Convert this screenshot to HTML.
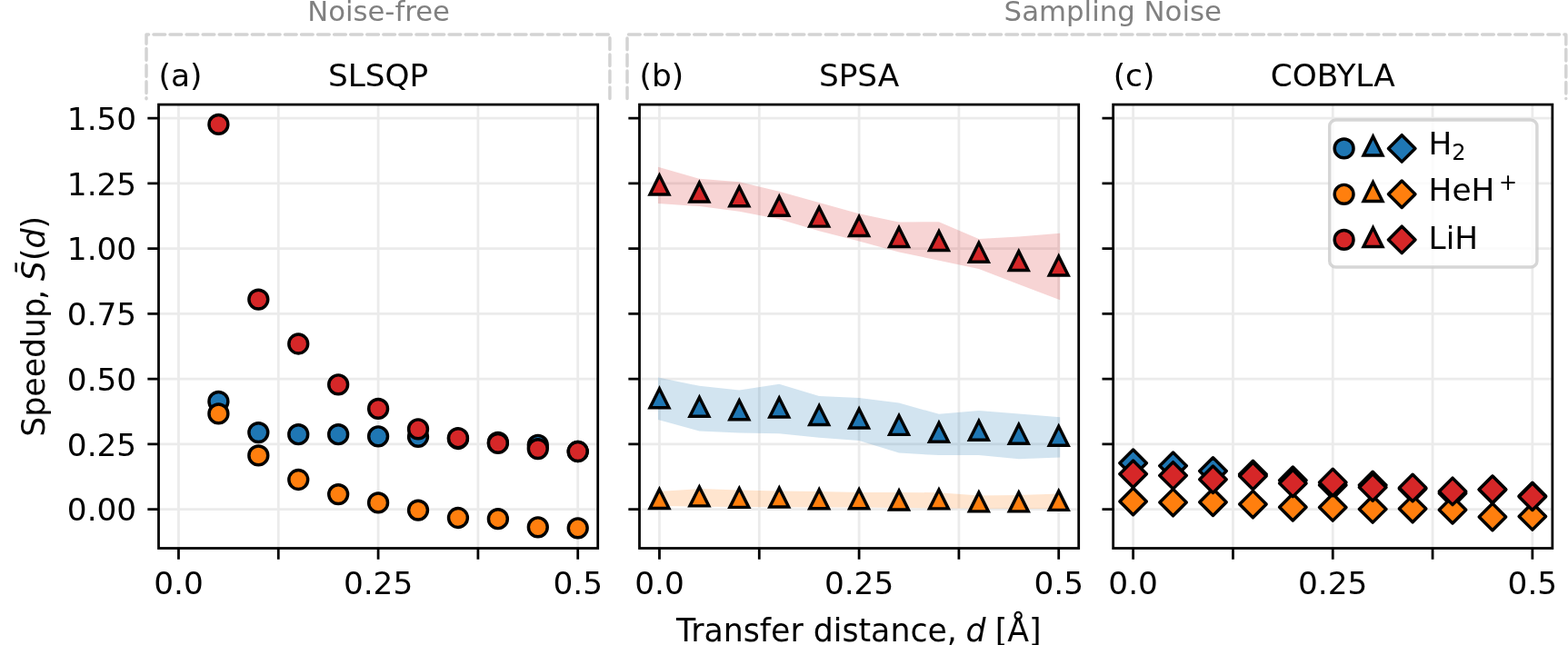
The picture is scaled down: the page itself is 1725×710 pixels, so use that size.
<!DOCTYPE html><html><head><meta charset="utf-8"><title>Speedup vs transfer distance</title><style>html,body{margin:0;padding:0;background:#fff;overflow:hidden}svg{display:block}</style></head><body>
<svg width="1725" height="710" viewBox="0 0 1725 710">
<rect x="0" y="0" width="1725" height="710" fill="#fff"/>
<path d="M161 108.8V38.1H670.9V108.6" stroke="#d3d3d3" stroke-width="3.47" fill="none" stroke-linecap="round" stroke-linejoin="round" stroke-dasharray="12.7 5.36" stroke-dashoffset="11.65"/>
<path d="M690 108.6V38.1H1722.8V108.6" stroke="#d3d3d3" stroke-width="3.47" fill="none" stroke-linecap="round" stroke-linejoin="round" stroke-dasharray="12.7 5.36" stroke-dashoffset="0.25"/>
<text x="416.6" y="23.3" font-family="DejaVu Sans" font-size="30.7" fill="#808080" text-anchor="middle">Noise-free</text>
<text x="1224.3" y="23.2" font-family="DejaVu Sans" font-size="30.8" fill="#808080" text-anchor="middle">Sampling Noise</text>
<g id="axa">
<rect x="174.5" y="115.1" width="483.2" height="488.4" fill="#fff"/>
<clipPath id="clipa"><rect x="174.5" y="115.1" width="483.2" height="488.4"/></clipPath>
<path d="M196.46 115.1V603.5M306.27 115.1V603.5M416.09 115.1V603.5M525.9 115.1V603.5M635.71 115.1V603.5M174.5 560.56H657.7M174.5 488.82H657.7M174.5 417.08H657.7M174.5 345.35H657.7M174.5 273.61H657.7M174.5 201.87H657.7M174.5 130.13H657.7" stroke="#ebebeb" stroke-width="2.78" fill="none" clip-path="url(#clipa)"/>
<g clip-path="url(#clipa)">
<circle cx="240.39" cy="441.9" r="10.42" fill="#1f77b4" stroke="#000" stroke-width="3.47"/>
<circle cx="284.31" cy="476.1" r="10.42" fill="#1f77b4" stroke="#000" stroke-width="3.47"/>
<circle cx="328.24" cy="478.2" r="10.42" fill="#1f77b4" stroke="#000" stroke-width="3.47"/>
<circle cx="372.16" cy="478.2" r="10.42" fill="#1f77b4" stroke="#000" stroke-width="3.47"/>
<circle cx="416.09" cy="480.3" r="10.42" fill="#1f77b4" stroke="#000" stroke-width="3.47"/>
<circle cx="460.01" cy="480.8" r="10.42" fill="#1f77b4" stroke="#000" stroke-width="3.47"/>
<circle cx="503.94" cy="483" r="10.42" fill="#1f77b4" stroke="#000" stroke-width="3.47"/>
<circle cx="547.86" cy="486.9" r="10.42" fill="#1f77b4" stroke="#000" stroke-width="3.47"/>
<circle cx="591.79" cy="489.8" r="10.42" fill="#1f77b4" stroke="#000" stroke-width="3.47"/>
<circle cx="635.71" cy="497" r="10.42" fill="#1f77b4" stroke="#000" stroke-width="3.47"/>
<circle cx="240.39" cy="455.4" r="10.42" fill="#ff7f0e" stroke="#000" stroke-width="3.47"/>
<circle cx="284.31" cy="501.4" r="10.42" fill="#ff7f0e" stroke="#000" stroke-width="3.47"/>
<circle cx="328.24" cy="528" r="10.42" fill="#ff7f0e" stroke="#000" stroke-width="3.47"/>
<circle cx="372.16" cy="544.1" r="10.42" fill="#ff7f0e" stroke="#000" stroke-width="3.47"/>
<circle cx="416.09" cy="553.4" r="10.42" fill="#ff7f0e" stroke="#000" stroke-width="3.47"/>
<circle cx="460.01" cy="561.6" r="10.42" fill="#ff7f0e" stroke="#000" stroke-width="3.47"/>
<circle cx="503.94" cy="570" r="10.42" fill="#ff7f0e" stroke="#000" stroke-width="3.47"/>
<circle cx="547.86" cy="571.2" r="10.42" fill="#ff7f0e" stroke="#000" stroke-width="3.47"/>
<circle cx="591.79" cy="580.3" r="10.42" fill="#ff7f0e" stroke="#000" stroke-width="3.47"/>
<circle cx="635.71" cy="581.3" r="10.42" fill="#ff7f0e" stroke="#000" stroke-width="3.47"/>
<circle cx="240.39" cy="136.9" r="10.42" fill="#d62728" stroke="#000" stroke-width="3.47"/>
<circle cx="284.31" cy="329.6" r="10.42" fill="#d62728" stroke="#000" stroke-width="3.47"/>
<circle cx="328.24" cy="378.5" r="10.42" fill="#d62728" stroke="#000" stroke-width="3.47"/>
<circle cx="372.16" cy="423.3" r="10.42" fill="#d62728" stroke="#000" stroke-width="3.47"/>
<circle cx="416.09" cy="449.9" r="10.42" fill="#d62728" stroke="#000" stroke-width="3.47"/>
<circle cx="460.01" cy="472.3" r="10.42" fill="#d62728" stroke="#000" stroke-width="3.47"/>
<circle cx="503.94" cy="482.2" r="10.42" fill="#d62728" stroke="#000" stroke-width="3.47"/>
<circle cx="547.86" cy="487.9" r="10.42" fill="#d62728" stroke="#000" stroke-width="3.47"/>
<circle cx="591.79" cy="494.1" r="10.42" fill="#d62728" stroke="#000" stroke-width="3.47"/>
<circle cx="635.71" cy="497" r="10.42" fill="#d62728" stroke="#000" stroke-width="3.47"/>
</g>
<rect x="174.5" y="115.1" width="483.2" height="488.4" fill="none" stroke="#000" stroke-width="2.78" stroke-linejoin="miter"/>
<path d="M196.46 603.5V615.65M306.27 603.5V615.65M416.09 603.5V615.65M525.9 603.5V615.65M635.71 603.5V615.65M174.5 560.56H162.35M174.5 488.82H162.35M174.5 417.08H162.35M174.5 345.35H162.35M174.5 273.61H162.35M174.5 201.87H162.35M174.5 130.13H162.35" stroke="#000" stroke-width="2.78" fill="none"/>
<text x="196.46" y="654" font-family="DejaVu Sans" font-size="34.3" text-anchor="middle">0.0</text>
<text x="416.09" y="654" font-family="DejaVu Sans" font-size="34.3" text-anchor="middle">0.25</text>
<text x="635.71" y="654" font-family="DejaVu Sans" font-size="34.3" text-anchor="middle">0.5</text>
<text x="150.2" y="573.41" font-family="DejaVu Sans" font-size="34.3" text-anchor="end">0.00</text>
<text x="150.2" y="501.67" font-family="DejaVu Sans" font-size="34.3" text-anchor="end">0.25</text>
<text x="150.2" y="429.93" font-family="DejaVu Sans" font-size="34.3" text-anchor="end">0.50</text>
<text x="150.2" y="358.2" font-family="DejaVu Sans" font-size="34.3" text-anchor="end">0.75</text>
<text x="150.2" y="286.46" font-family="DejaVu Sans" font-size="34.3" text-anchor="end">1.00</text>
<text x="150.2" y="214.72" font-family="DejaVu Sans" font-size="34.3" text-anchor="end">1.25</text>
<text x="150.2" y="142.98" font-family="DejaVu Sans" font-size="34.3" text-anchor="end">1.50</text>
<text x="174.5" y="94.5" font-family="DejaVu Sans" font-size="34.3">(a)</text>
<text x="416.1" y="94.5" font-family="DejaVu Sans" font-size="34.3" text-anchor="middle">SLSQP</text>
</g>
<g id="axb">
<rect x="703.5" y="115.1" width="483.2" height="488.4" fill="#fff"/>
<clipPath id="clipb"><rect x="703.5" y="115.1" width="483.2" height="488.4"/></clipPath>
<path d="M725.46 115.1V603.5M835.27 115.1V603.5M945.09 115.1V603.5M1054.9 115.1V603.5M1164.71 115.1V603.5M703.5 560.56H1186.7M703.5 488.82H1186.7M703.5 417.08H1186.7M703.5 345.35H1186.7M703.5 273.61H1186.7M703.5 201.87H1186.7M703.5 130.13H1186.7" stroke="#ebebeb" stroke-width="2.78" fill="none" clip-path="url(#clipb)"/>
<g clip-path="url(#clipb)">
<path d="M723.96 415.5L769.39 424.8L813.31 429.4L857.24 422.8L901.16 436.1L945.09 437.9L989.01 443.6L1032.94 455.8L1076.86 452.1L1120.79 455.5L1166.21 459.2L1166.21 503.6L1120.79 505.3L1076.86 501.1L1032.94 501.1L989.01 498.6L945.09 484.9L901.16 481.8L857.24 477.2L813.31 476.4L769.39 474.5L723.96 462.1Z" fill="#1f77b4" fill-opacity="0.2"/>
<path d="M723.96 541L769.39 538.1L813.31 539.6L857.24 540.5L901.16 541L945.09 541.9L989.01 542L1032.94 542.2L1076.86 545.6L1120.79 545L1166.21 543.4L1166.21 559.9L1120.79 559.9L1076.86 559.8L1032.94 559.5L989.01 559L945.09 558.4L901.16 558.4L857.24 558.2L813.31 558L769.39 557.7L723.96 557Z" fill="#ff7f0e" fill-opacity="0.2"/>
<path d="M723.96 183.7L769.39 196.8L813.31 200.3L857.24 210.8L901.16 223L945.09 235.2L989.01 244.4L1032.94 244.2L1076.86 263.1L1120.79 260.6L1166.21 256.7L1166.21 330.3L1120.79 312.9L1076.86 296L1032.94 286.7L989.01 277.6L945.09 265.6L901.16 254.2L857.24 241.2L813.31 232.8L769.39 227.1L723.96 223.9Z" fill="#d62728" fill-opacity="0.2"/>
<path d="M725.46 427.93L715.05 448.77L735.88 448.77Z" fill="#1f77b4" stroke="#000" stroke-width="3.47" stroke-linejoin="miter"/>
<path d="M769.39 437.43L758.97 458.27L779.8 458.27Z" fill="#1f77b4" stroke="#000" stroke-width="3.47" stroke-linejoin="miter"/>
<path d="M813.31 440.83L802.9 461.67L823.73 461.67Z" fill="#1f77b4" stroke="#000" stroke-width="3.47" stroke-linejoin="miter"/>
<path d="M857.24 438.13L846.82 458.97L867.65 458.97Z" fill="#1f77b4" stroke="#000" stroke-width="3.47" stroke-linejoin="miter"/>
<path d="M901.16 446.73L890.75 467.57L911.58 467.57Z" fill="#1f77b4" stroke="#000" stroke-width="3.47" stroke-linejoin="miter"/>
<path d="M945.09 450.23L934.67 471.07L955.5 471.07Z" fill="#1f77b4" stroke="#000" stroke-width="3.47" stroke-linejoin="miter"/>
<path d="M989.01 457.53L978.6 478.37L999.43 478.37Z" fill="#1f77b4" stroke="#000" stroke-width="3.47" stroke-linejoin="miter"/>
<path d="M1032.94 465.43L1022.52 486.27L1043.35 486.27Z" fill="#1f77b4" stroke="#000" stroke-width="3.47" stroke-linejoin="miter"/>
<path d="M1076.86 463.43L1066.45 484.27L1087.28 484.27Z" fill="#1f77b4" stroke="#000" stroke-width="3.47" stroke-linejoin="miter"/>
<path d="M1120.79 467.33L1110.37 488.17L1131.2 488.17Z" fill="#1f77b4" stroke="#000" stroke-width="3.47" stroke-linejoin="miter"/>
<path d="M1164.71 469.33L1154.3 490.17L1175.13 490.17Z" fill="#1f77b4" stroke="#000" stroke-width="3.47" stroke-linejoin="miter"/>
<path d="M725.46 538.63L715.05 559.47L735.88 559.47Z" fill="#ff7f0e" stroke="#000" stroke-width="3.47" stroke-linejoin="miter"/>
<path d="M769.39 536.03L758.97 556.87L779.8 556.87Z" fill="#ff7f0e" stroke="#000" stroke-width="3.47" stroke-linejoin="miter"/>
<path d="M813.31 537.53L802.9 558.37L823.73 558.37Z" fill="#ff7f0e" stroke="#000" stroke-width="3.47" stroke-linejoin="miter"/>
<path d="M857.24 537.23L846.82 558.07L867.65 558.07Z" fill="#ff7f0e" stroke="#000" stroke-width="3.47" stroke-linejoin="miter"/>
<path d="M901.16 538.93L890.75 559.77L911.58 559.77Z" fill="#ff7f0e" stroke="#000" stroke-width="3.47" stroke-linejoin="miter"/>
<path d="M945.09 538.83L934.67 559.67L955.5 559.67Z" fill="#ff7f0e" stroke="#000" stroke-width="3.47" stroke-linejoin="miter"/>
<path d="M989.01 540.23L978.6 561.07L999.43 561.07Z" fill="#ff7f0e" stroke="#000" stroke-width="3.47" stroke-linejoin="miter"/>
<path d="M1032.94 539.03L1022.52 559.87L1043.35 559.87Z" fill="#ff7f0e" stroke="#000" stroke-width="3.47" stroke-linejoin="miter"/>
<path d="M1076.86 542.03L1066.45 562.87L1087.28 562.87Z" fill="#ff7f0e" stroke="#000" stroke-width="3.47" stroke-linejoin="miter"/>
<path d="M1120.79 542.03L1110.37 562.87L1131.2 562.87Z" fill="#ff7f0e" stroke="#000" stroke-width="3.47" stroke-linejoin="miter"/>
<path d="M1164.71 540.53L1154.3 561.37L1175.13 561.37Z" fill="#ff7f0e" stroke="#000" stroke-width="3.47" stroke-linejoin="miter"/>
<path d="M725.46 193.08L715.05 213.92L735.88 213.92Z" fill="#d62728" stroke="#000" stroke-width="3.47" stroke-linejoin="miter"/>
<path d="M769.39 201.13L758.97 221.97L779.8 221.97Z" fill="#d62728" stroke="#000" stroke-width="3.47" stroke-linejoin="miter"/>
<path d="M813.31 205.83L802.9 226.67L823.73 226.67Z" fill="#d62728" stroke="#000" stroke-width="3.47" stroke-linejoin="miter"/>
<path d="M857.24 216.43L846.82 237.27L867.65 237.27Z" fill="#d62728" stroke="#000" stroke-width="3.47" stroke-linejoin="miter"/>
<path d="M901.16 228.28L890.75 249.12L911.58 249.12Z" fill="#d62728" stroke="#000" stroke-width="3.47" stroke-linejoin="miter"/>
<path d="M945.09 238.63L934.67 259.47L955.5 259.47Z" fill="#d62728" stroke="#000" stroke-width="3.47" stroke-linejoin="miter"/>
<path d="M989.01 250.63L978.6 271.47L999.43 271.47Z" fill="#d62728" stroke="#000" stroke-width="3.47" stroke-linejoin="miter"/>
<path d="M1032.94 254.73L1022.52 275.57L1043.35 275.57Z" fill="#d62728" stroke="#000" stroke-width="3.47" stroke-linejoin="miter"/>
<path d="M1076.86 267.33L1066.45 288.17L1087.28 288.17Z" fill="#d62728" stroke="#000" stroke-width="3.47" stroke-linejoin="miter"/>
<path d="M1120.79 276.63L1110.37 297.47L1131.2 297.47Z" fill="#d62728" stroke="#000" stroke-width="3.47" stroke-linejoin="miter"/>
<path d="M1164.71 282.23L1154.3 303.07L1175.13 303.07Z" fill="#d62728" stroke="#000" stroke-width="3.47" stroke-linejoin="miter"/>
</g>
<rect x="703.5" y="115.1" width="483.2" height="488.4" fill="none" stroke="#000" stroke-width="2.78" stroke-linejoin="miter"/>
<path d="M725.46 603.5V615.65M835.27 603.5V615.65M945.09 603.5V615.65M1054.9 603.5V615.65M1164.71 603.5V615.65M703.5 560.56H691.35M703.5 488.82H691.35M703.5 417.08H691.35M703.5 345.35H691.35M703.5 273.61H691.35M703.5 201.87H691.35M703.5 130.13H691.35" stroke="#000" stroke-width="2.78" fill="none"/>
<text x="725.46" y="654" font-family="DejaVu Sans" font-size="34.3" text-anchor="middle">0.0</text>
<text x="945.09" y="654" font-family="DejaVu Sans" font-size="34.3" text-anchor="middle">0.25</text>
<text x="1164.71" y="654" font-family="DejaVu Sans" font-size="34.3" text-anchor="middle">0.5</text>
<text x="703.5" y="94.5" font-family="DejaVu Sans" font-size="34.3">(b)</text>
<text x="945.1" y="94.5" font-family="DejaVu Sans" font-size="34.3" text-anchor="middle">SPSA</text>
</g>
<g id="axc">
<rect x="1224.65" y="115.1" width="483.2" height="488.4" fill="#fff"/>
<clipPath id="clipc"><rect x="1224.65" y="115.1" width="483.2" height="488.4"/></clipPath>
<path d="M1246.61 115.1V603.5M1356.43 115.1V603.5M1466.24 115.1V603.5M1576.05 115.1V603.5M1685.86 115.1V603.5M1224.65 560.56H1707.85M1224.65 488.82H1707.85M1224.65 417.08H1707.85M1224.65 345.35H1707.85M1224.65 273.61H1707.85M1224.65 201.87H1707.85M1224.65 130.13H1707.85" stroke="#ebebeb" stroke-width="2.78" fill="none" clip-path="url(#clipc)"/>
<g clip-path="url(#clipc)">
<path d="M1246.61 495.07L1261.34 509.8L1246.61 524.53L1231.88 509.8Z" fill="#1f77b4" stroke="#000" stroke-width="3.47" stroke-linejoin="round"/>
<path d="M1290.54 498.07L1305.27 512.8L1290.54 527.53L1275.81 512.8Z" fill="#1f77b4" stroke="#000" stroke-width="3.47" stroke-linejoin="round"/>
<path d="M1334.46 503.77L1349.19 518.5L1334.46 533.23L1319.73 518.5Z" fill="#1f77b4" stroke="#000" stroke-width="3.47" stroke-linejoin="round"/>
<path d="M1378.39 507.27L1393.12 522L1378.39 536.73L1363.66 522Z" fill="#1f77b4" stroke="#000" stroke-width="3.47" stroke-linejoin="round"/>
<path d="M1422.31 514.07L1437.04 528.8L1422.31 543.53L1407.58 528.8Z" fill="#1f77b4" stroke="#000" stroke-width="3.47" stroke-linejoin="round"/>
<path d="M1466.24 519.27L1480.97 534L1466.24 548.73L1451.51 534Z" fill="#1f77b4" stroke="#000" stroke-width="3.47" stroke-linejoin="round"/>
<path d="M1510.16 519.27L1524.89 534L1510.16 548.73L1495.43 534Z" fill="#1f77b4" stroke="#000" stroke-width="3.47" stroke-linejoin="round"/>
<path d="M1554.09 523.27L1568.82 538L1554.09 552.73L1539.36 538Z" fill="#1f77b4" stroke="#000" stroke-width="3.47" stroke-linejoin="round"/>
<path d="M1598.01 528.27L1612.74 543L1598.01 557.73L1583.28 543Z" fill="#1f77b4" stroke="#000" stroke-width="3.47" stroke-linejoin="round"/>
<path d="M1641.94 524.27L1656.67 539L1641.94 553.73L1627.21 539Z" fill="#1f77b4" stroke="#000" stroke-width="3.47" stroke-linejoin="round"/>
<path d="M1685.86 531.27L1700.59 546L1685.86 560.73L1671.13 546Z" fill="#1f77b4" stroke="#000" stroke-width="3.47" stroke-linejoin="round"/>
<path d="M1246.61 537.27L1261.34 552L1246.61 566.73L1231.88 552Z" fill="#ff7f0e" stroke="#000" stroke-width="3.47" stroke-linejoin="round"/>
<path d="M1290.54 538.37L1305.27 553.1L1290.54 567.83L1275.81 553.1Z" fill="#ff7f0e" stroke="#000" stroke-width="3.47" stroke-linejoin="round"/>
<path d="M1334.46 538.07L1349.19 552.8L1334.46 567.53L1319.73 552.8Z" fill="#ff7f0e" stroke="#000" stroke-width="3.47" stroke-linejoin="round"/>
<path d="M1378.39 540.37L1393.12 555.1L1378.39 569.83L1363.66 555.1Z" fill="#ff7f0e" stroke="#000" stroke-width="3.47" stroke-linejoin="round"/>
<path d="M1422.31 543.47L1437.04 558.2L1422.31 572.93L1407.58 558.2Z" fill="#ff7f0e" stroke="#000" stroke-width="3.47" stroke-linejoin="round"/>
<path d="M1466.24 543.67L1480.97 558.4L1466.24 573.13L1451.51 558.4Z" fill="#ff7f0e" stroke="#000" stroke-width="3.47" stroke-linejoin="round"/>
<path d="M1510.16 545.67L1524.89 560.4L1510.16 575.13L1495.43 560.4Z" fill="#ff7f0e" stroke="#000" stroke-width="3.47" stroke-linejoin="round"/>
<path d="M1554.09 545.37L1568.82 560.1L1554.09 574.83L1539.36 560.1Z" fill="#ff7f0e" stroke="#000" stroke-width="3.47" stroke-linejoin="round"/>
<path d="M1598.01 546.47L1612.74 561.2L1598.01 575.93L1583.28 561.2Z" fill="#ff7f0e" stroke="#000" stroke-width="3.47" stroke-linejoin="round"/>
<path d="M1641.94 554.27L1656.67 569L1641.94 583.73L1627.21 569Z" fill="#ff7f0e" stroke="#000" stroke-width="3.47" stroke-linejoin="round"/>
<path d="M1685.86 553.67L1700.59 568.4L1685.86 583.13L1671.13 568.4Z" fill="#ff7f0e" stroke="#000" stroke-width="3.47" stroke-linejoin="round"/>
<path d="M1246.61 507.07L1261.34 521.8L1246.61 536.53L1231.88 521.8Z" fill="#d62728" stroke="#000" stroke-width="3.47" stroke-linejoin="round"/>
<path d="M1290.54 508.67L1305.27 523.4L1290.54 538.13L1275.81 523.4Z" fill="#d62728" stroke="#000" stroke-width="3.47" stroke-linejoin="round"/>
<path d="M1334.46 512.97L1349.19 527.7L1334.46 542.43L1319.73 527.7Z" fill="#d62728" stroke="#000" stroke-width="3.47" stroke-linejoin="round"/>
<path d="M1378.39 509.27L1393.12 524L1378.39 538.73L1363.66 524Z" fill="#d62728" stroke="#000" stroke-width="3.47" stroke-linejoin="round"/>
<path d="M1422.31 517.17L1437.04 531.9L1422.31 546.63L1407.58 531.9Z" fill="#d62728" stroke="#000" stroke-width="3.47" stroke-linejoin="round"/>
<path d="M1466.24 516.27L1480.97 531L1466.24 545.73L1451.51 531Z" fill="#d62728" stroke="#000" stroke-width="3.47" stroke-linejoin="round"/>
<path d="M1510.16 521.77L1524.89 536.5L1510.16 551.23L1495.43 536.5Z" fill="#d62728" stroke="#000" stroke-width="3.47" stroke-linejoin="round"/>
<path d="M1554.09 522.27L1568.82 537L1554.09 551.73L1539.36 537Z" fill="#d62728" stroke="#000" stroke-width="3.47" stroke-linejoin="round"/>
<path d="M1598.01 526.17L1612.74 540.9L1598.01 555.63L1583.28 540.9Z" fill="#d62728" stroke="#000" stroke-width="3.47" stroke-linejoin="round"/>
<path d="M1641.94 524.07L1656.67 538.8L1641.94 553.53L1627.21 538.8Z" fill="#d62728" stroke="#000" stroke-width="3.47" stroke-linejoin="round"/>
<path d="M1685.86 531.97L1700.59 546.7L1685.86 561.43L1671.13 546.7Z" fill="#d62728" stroke="#000" stroke-width="3.47" stroke-linejoin="round"/>
</g>
<rect x="1224.65" y="115.1" width="483.2" height="488.4" fill="none" stroke="#000" stroke-width="2.78" stroke-linejoin="miter"/>
<path d="M1246.61 603.5V615.65M1356.43 603.5V615.65M1466.24 603.5V615.65M1576.05 603.5V615.65M1685.86 603.5V615.65M1224.65 560.56H1212.5M1224.65 488.82H1212.5M1224.65 417.08H1212.5M1224.65 345.35H1212.5M1224.65 273.61H1212.5M1224.65 201.87H1212.5M1224.65 130.13H1212.5" stroke="#000" stroke-width="2.78" fill="none"/>
<text x="1246.61" y="654" font-family="DejaVu Sans" font-size="34.3" text-anchor="middle">0.0</text>
<text x="1466.24" y="654" font-family="DejaVu Sans" font-size="34.3" text-anchor="middle">0.25</text>
<text x="1685.86" y="654" font-family="DejaVu Sans" font-size="34.3" text-anchor="middle">0.5</text>
<text x="1224.65" y="94.5" font-family="DejaVu Sans" font-size="34.3">(c)</text>
<text x="1466.25" y="94.5" font-family="DejaVu Sans" font-size="34.3" text-anchor="middle">COBYLA</text>
</g>
<rect x="1462.7" y="131.9" width="228.2" height="162.2" rx="6.94" ry="6.94" fill="#fff" fill-opacity="0.8" stroke="#cccccc" stroke-opacity="0.8" stroke-width="3.47"/>
<circle cx="1478.6" cy="163.4" r="10.42" fill="#1f77b4" stroke="#000" stroke-width="3.47"/>
<path d="M1510.5 150.18L1500.08 171.02L1520.92 171.02Z" fill="#1f77b4" stroke="#000" stroke-width="3.47" stroke-linejoin="miter"/>
<path d="M1542.2 148.67L1556.93 163.4L1542.2 178.13L1527.47 163.4Z" fill="#1f77b4" stroke="#000" stroke-width="3.47" stroke-linejoin="round"/>
<circle cx="1478.6" cy="213.8" r="10.42" fill="#ff7f0e" stroke="#000" stroke-width="3.47"/>
<path d="M1510.5 200.58L1500.08 221.42L1520.92 221.42Z" fill="#ff7f0e" stroke="#000" stroke-width="3.47" stroke-linejoin="miter"/>
<path d="M1542.2 199.07L1556.93 213.8L1542.2 228.53L1527.47 213.8Z" fill="#ff7f0e" stroke="#000" stroke-width="3.47" stroke-linejoin="round"/>
<circle cx="1478.6" cy="263.9" r="10.42" fill="#d62728" stroke="#000" stroke-width="3.47"/>
<path d="M1510.5 250.68L1500.08 271.52L1520.92 271.52Z" fill="#d62728" stroke="#000" stroke-width="3.47" stroke-linejoin="miter"/>
<path d="M1542.2 249.17L1556.93 263.9L1542.2 278.63L1527.47 263.9Z" fill="#d62728" stroke="#000" stroke-width="3.47" stroke-linejoin="round"/>
<text x="1571.6" y="169.8" font-family="DejaVu Sans" font-size="34.3">H<tspan font-size="24.01" dy="6.1" dx="-0.2">2</tspan></text>
<text x="1571.6" y="220.7" font-family="DejaVu Sans" font-size="34.3">HeH<tspan font-size="24.01" dy="-12.1" dx="4.7">+</tspan></text>
<text x="1571.6" y="274.0" font-family="DejaVu Sans" font-size="34.3">LiH</text>
<text transform="translate(49.4 480.8) rotate(-90)" font-family="DejaVu Sans" font-size="34.72">Speedup<tspan dx="-2.2">,</tspan> <tspan font-style="italic" dx="-1.1">S̄</tspan>(<tspan font-style="italic">d</tspan>)</text>
<text x="744.1" y="705.6" font-family="DejaVu Sans" font-size="34.72">Transfer distance, <tspan font-style="italic" dx="-1.4">d</tspan><tspan dx="-0.8"> [Å]</tspan></text>
</svg>
</body></html>
